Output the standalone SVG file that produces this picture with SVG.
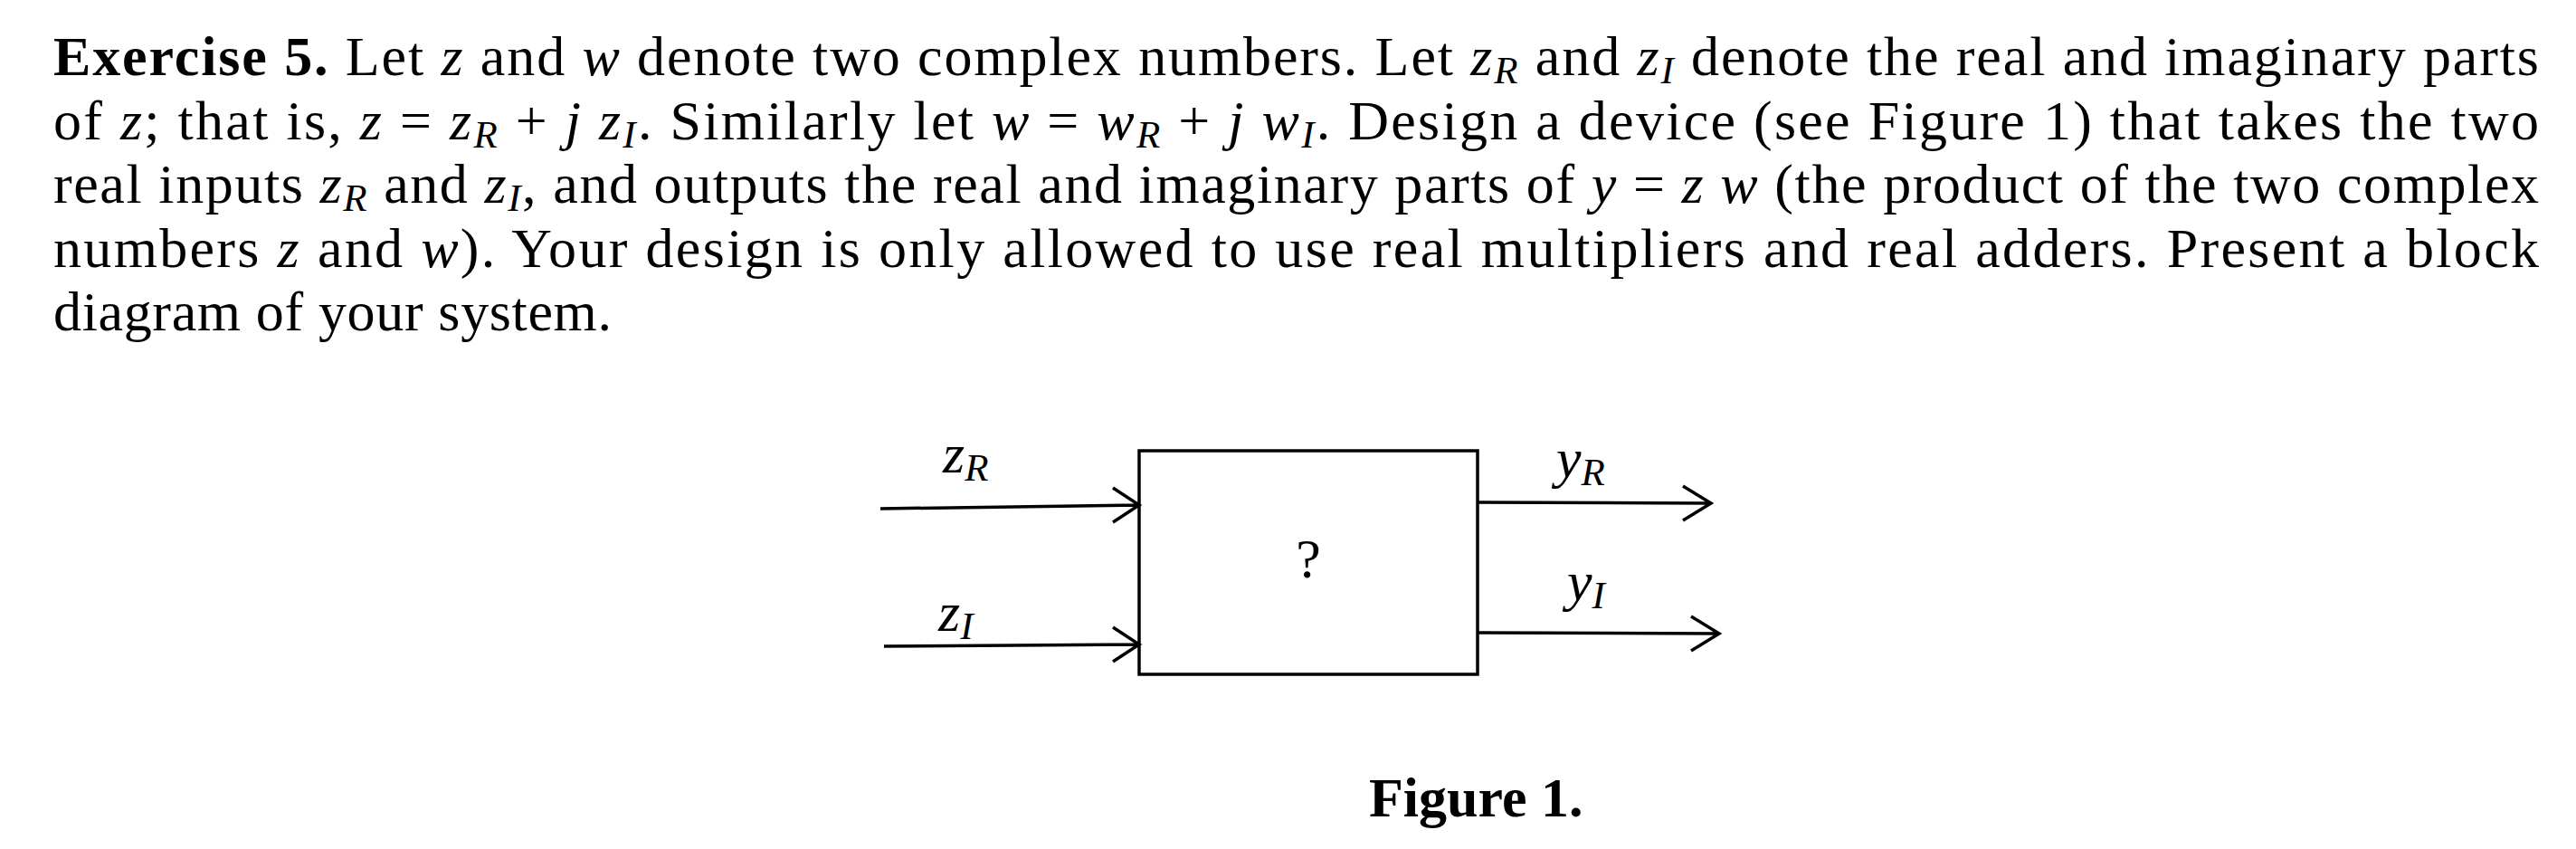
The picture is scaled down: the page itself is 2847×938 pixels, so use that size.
<svg xmlns="http://www.w3.org/2000/svg" width="2847" height="938" viewBox="0 0 2847 938">
<style>
text{font-family:"Liberation Serif","DejaVu Serif",serif;font-size:62px;fill:#000}
.m{font-style:italic}
.s{font-size:43px}
.b{font-weight:bold}
.ln{stroke:#000;stroke-width:3.5;fill:none}
</style>
<rect width="2847" height="938" fill="#fff"/>
<g id="text">
<text x="59" y="83" textLength="2747" lengthAdjust="spacing"><tspan class="b">Exercise 5.</tspan> Let <tspan class="m">z</tspan> and <tspan class="m">w</tspan> denote two complex numbers. Let <tspan class="m">z</tspan><tspan class="m s" dy="9">R</tspan><tspan dy="-9"> and </tspan><tspan class="m">z</tspan><tspan class="m s" dy="9">I</tspan><tspan dy="-9"> denote the real and imaginary parts</tspan></text>
<text x="59" y="154" textLength="2747" lengthAdjust="spacing">of <tspan class="m">z</tspan>; that is, <tspan class="m">z</tspan> = <tspan class="m">z</tspan><tspan class="m s" dy="9">R</tspan><tspan dy="-9"> + </tspan><tspan class="m">j z</tspan><tspan class="m s" dy="9">I</tspan><tspan dy="-9">. Similarly let </tspan><tspan class="m">w</tspan> = <tspan class="m">w</tspan><tspan class="m s" dy="9">R</tspan><tspan dy="-9"> + </tspan><tspan class="m">j w</tspan><tspan class="m s" dy="9">I</tspan><tspan dy="-9">. Design a device (see Figure 1) that takes the two</tspan></text>
<text x="59" y="224" textLength="2747" lengthAdjust="spacing">real inputs <tspan class="m">z</tspan><tspan class="m s" dy="9">R</tspan><tspan dy="-9"> and </tspan><tspan class="m">z</tspan><tspan class="m s" dy="9">I</tspan><tspan dy="-9">, and outputs the real and imaginary parts of </tspan><tspan class="m">y</tspan> = <tspan class="m">z w</tspan> (the product of the two complex</text>
<text x="59" y="295" textLength="2747" lengthAdjust="spacing">numbers <tspan class="m">z</tspan>  and <tspan class="m">w</tspan>). Your design is only allowed to use real multipliers and real adders. Present a block</text>
<text x="59" y="365" textLength="617" lengthAdjust="spacing">diagram of your system.</text>
</g>
<g id="box">
<rect x="1259" y="498" width="374" height="247" class="ln"/>
<text x="1446" y="638" text-anchor="middle">?</text>
</g>
<g id="labels">
<text x="1042" y="522" class="m">z<tspan class="s" dy="9">R</tspan></text>
<text x="1037" y="697" class="m">z<tspan class="s" dy="9">I</tspan></text>
<text x="1720" y="527" class="m">y<tspan class="s" dy="9">R</tspan></text>
<text x="1732" y="663" class="m">y<tspan class="s" dy="9">I</tspan></text>
</g>
<g id="connectors">
<path class="ln" d="M973 562 L1259 558 M1230 539 L1259 558 L1230 577"/>
<path class="ln" d="M977 714 L1259 712 M1230 693 L1259 712 L1230 731"/>
<path class="ln" d="M1633 555 L1891 556 M1860 537 L1891 556 L1860 575"/>
<path class="ln" d="M1633 699 L1900 700 M1869 681 L1900 700 L1869 719"/>
</g>
<text x="1513" y="902" class="b" font-size="42">Figure 1.</text>
</svg>
